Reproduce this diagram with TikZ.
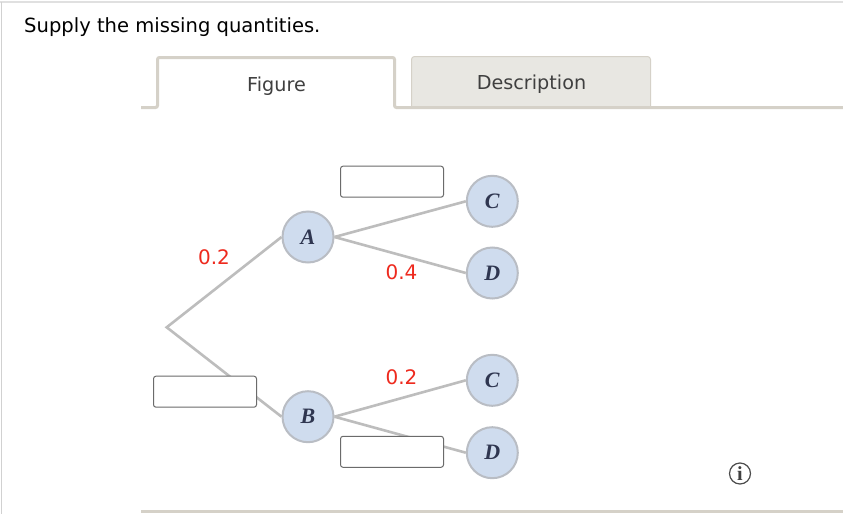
\documentclass[tikz,border=0pt]{standalone}
\usepackage{fontspec}
\setmainfont{DejaVu Sans}
\newfontfamily\nodefont{Liberation Serif}
\definecolor{tabline}{HTML}{D5D1C8}
\definecolor{tabfill}{HTML}{E8E7E2}
\definecolor{edgegray}{HTML}{BDBDBD}
\definecolor{circfill}{HTML}{CFDCEE}
\definecolor{circline}{HTML}{B9BDC4}
\definecolor{inklabel}{HTML}{2F3650}
\definecolor{redlabel}{HTML}{EE2A1E}
\definecolor{tabtext}{HTML}{3F3F3F}
\tikzset{
  treenode/.style={circle,draw=circline,line width=2pt,fill=circfill,minimum size=51pt,inner sep=0pt,
    text=inklabel,font=\nodefont\bfseries\itshape\fontsize{22}{26}\selectfont},
  branch/.style={draw=edgegray,line width=2.6pt,line join=miter},
  answerbox/.style={draw=black!58,line width=1pt,fill=white,rounded corners=2.5pt,minimum width=103pt,minimum height=31pt,inner sep=0pt},
  problabel/.style={text=redlabel,font=\fontsize{20}{24}\selectfont,inner sep=0pt},
  tablabel/.style={text=tabtext,font=\fontsize{19.2}{23}\selectfont,inner sep=0pt},
  tabrule/.style={draw=tabline,line width=3pt}
}
\begin{document}
\begin{tikzpicture}[x=1pt,y=-1pt]
\useasboundingbox (0,0) rectangle (843,514);
\fill[white] (0,0) rectangle (843,514);
\draw[black!12,line width=1.5pt] (0,2) -- (843,2);
\draw[black!18,line width=1.5pt] (1.5,2) -- (1.5,514);
\node[anchor=base west,inner sep=0pt,font=\fontsize{19.55}{24}\selectfont] (title) at (24,32) {Supply the missing quantities.};
% tabs
\draw[fill=tabfill,draw=tabline,line width=1pt,rounded corners=3pt] (411.5,106) -- (411.5,56.5) -- (650.5,56.5) -- (650.5,106);
\draw[tabrule,rounded corners=2pt] (141,107.5) -- (157.5,107.5) -- (157.5,57.5) -- (394.5,57.5) -- (394.5,107.5) -- (843,107.5);
\node[tablabel] (figtab) at (276.5,86) {Figure};
\node[tablabel] (desctab) at (531.5,84) {Description};
\draw[tabrule] (141,511.5) -- (843,511.5);
% tree
\coordinate (root) at (166.7,327.3);
\node[treenode] (A) at (308,237) {A};
\node[treenode] (B) at (308,416.7) {B};
\node[treenode] (C1) at (492.3,201.3) {C};
\node[treenode] (D1) at (492.3,273) {D};
\node[treenode] (C2) at (492.3,380.3) {C};
\node[treenode] (D2) at (492.3,452.7) {D};
\draw[branch] (A.west) -- (root) -- (B.west);
\draw[branch] (A.east) -- (C1.west);
\draw[branch] (A.east) -- (D1.west);
\draw[branch] (B.east) -- (C2.west);
\draw[branch] (B.east) -- (D2.west);
\node[answerbox] (box1) at (392,181.7) {};
\node[answerbox] (box2) at (205,391.7) {};
\node[answerbox] (box3) at (392,451.8) {};
\node[problabel] (p1) at (214,257) {0.2};
\node[problabel] (p2) at (401.5,272.5) {0.4};
\node[problabel] (p3) at (401.5,377) {0.2};
% info icon
\node[circle,draw=black!70,line width=1.2pt,minimum size=21pt,inner sep=0pt,text=black!75,
  font=\nodefont\bfseries\fontsize{20}{24}\selectfont] (info) at (740,473.5) {i};
\end{tikzpicture}
\end{document}
